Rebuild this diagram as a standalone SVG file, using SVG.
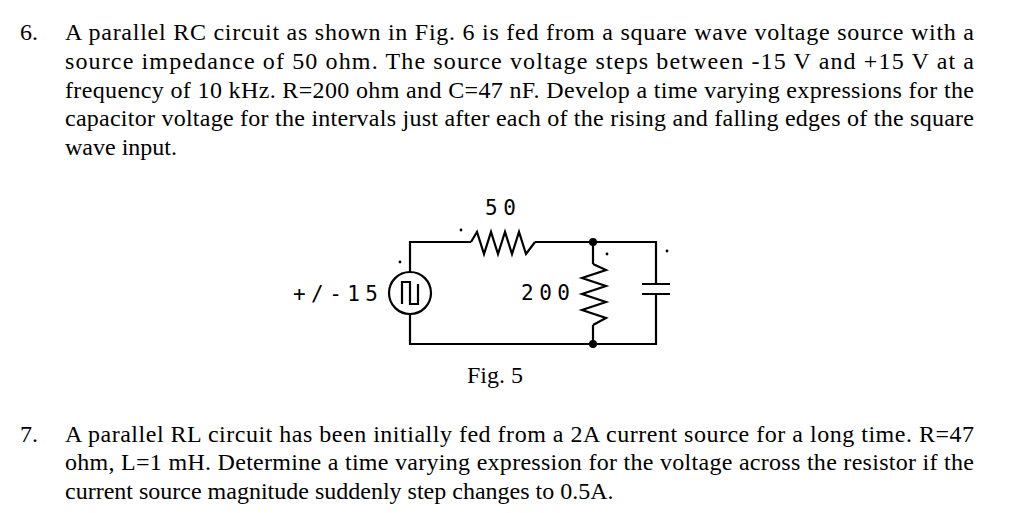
<svg xmlns="http://www.w3.org/2000/svg" width="1024" height="513" viewBox="0 0 1024 513">
<style>
.t{font-family:"Liberation Serif",serif;font-size:24px;fill:#000}
.c{font-family:"DejaVu Sans Mono","Liberation Mono",monospace;font-size:21px;fill:#000}
.w{stroke:#000;stroke-width:2.2;fill:none}
</style>
<rect width="1024" height="513" fill="#fff"/>
<g id="text6">
<text class="t" x="20" y="40">6.</text>
<text class="t" x="65" y="40" textLength="909" lengthAdjust="spacing">A parallel RC circuit as shown in Fig. 6 is fed from a square wave voltage source with a</text>
<text class="t" x="65" y="69" textLength="909" lengthAdjust="spacing">source impedance of 50 ohm. The source voltage steps between -15 V and +15 V at a</text>
<text class="t" x="65" y="98" textLength="909" lengthAdjust="spacing">frequency of 10 kHz. R=200 ohm and C=47 nF. Develop a time varying expressions for the</text>
<text class="t" x="65" y="126" textLength="909" lengthAdjust="spacing">capacitor voltage for the intervals just after each of the rising and falling edges of the square</text>
<text class="t" x="65" y="155">wave input.</text>
</g>
<g id="connectors">
<path class="w" d="M410,272 V242 H471 M535,242 H656 V283 M656,295 V344 H410 V314 M593,242 V264 M593,325 V344"/>
</g>
<g id="R50"><path class="w" d="M471,242 L477,232 L484,254 L491,232 L498,254 L505,232 L512,254 L519,232 L526,254 L535,242"/><text class="c" x="485" y="215" textLength="31" lengthAdjust="spacing">50</text></g>
<g id="R200"><path class="w" d="M593,264 L606,270 L582,278 L606,286 L582,294 L606,302 L582,310 L606,318 L593,325"/><text class="c" x="521" y="300" textLength="49" lengthAdjust="spacing">200</text></g>
<g id="C"><path class="w" d="M642,284 H670 M642,294 H670"/></g>
<g id="src"><circle class="w" cx="410" cy="293" r="21" stroke-width="1.6"/><path class="w" d="M402,304 V282 H410 V304 H418 V284"/><text class="c" x="293" y="301" textLength="85" lengthAdjust="spacing">+/-15</text></g>
<g id="nodes"><circle cx="593" cy="242" r="4"/><circle cx="593" cy="344" r="4"/>
<circle cx="461" cy="230" r="1.4"/><circle cx="400" cy="262" r="1.4"/><circle cx="607" cy="254" r="1.4"/><circle cx="667" cy="251" r="1.4"/></g>
<text class="t" x="467" y="383">Fig. 5</text>
<g id="text7">
<text class="t" x="20" y="442">7.</text>
<text class="t" x="65" y="442" textLength="909" lengthAdjust="spacing">A parallel RL circuit has been initially fed from a 2A current source for a long time. R=47</text>
<text class="t" x="65" y="470" textLength="909" lengthAdjust="spacing">ohm, L=1 mH. Determine a time varying expression for the voltage across the resistor if the</text>
<text class="t" x="65" y="499">current source magnitude suddenly step changes to 0.5A.</text>
</g>
</svg>
